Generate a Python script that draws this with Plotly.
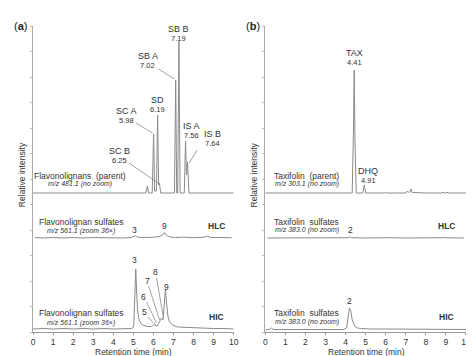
import plotly.graph_objects as go
from plotly.subplots import make_subplots

# ---------------- data ----------------
time_ticks = [0, 1, 2, 3, 4, 5, 6, 7, 8, 9, 10]

# Panel (a) - flavonolignans parent, m/z 481.1
a_parent_t = [0, 5.62, 5.70, 5.76, 5.94, 6.01, 6.06, 6.15, 6.21, 6.26, 6.30, 6.36,
              7.05, 7.11, 7.16, 7.21, 7.27, 7.33, 7.54, 7.60, 7.65, 7.70, 7.77, 10.0]
a_parent_i = [0, 0, 7, 0, 0, 59, 2, 2, 78, 8, 10, 0,
              0, 113, 0, 0, 152, 0, 0, 52, 18, 31, 0, 0]

# Panel (a) - flavonolignan sulfates HLC, m/z 561.1 (zoom 36x)
a_hlc_t = [0.1, 0.5, 1.0, 1.5, 2.0, 2.5, 3.0, 3.5, 4.0, 4.5, 4.9, 5.05, 5.12, 5.2, 5.4, 5.8,
           6.1, 6.3, 6.45, 6.55, 6.62, 6.7, 6.85, 7.1, 7.5, 8.0, 8.5, 8.7, 8.85, 9.2, 9.9]
a_hlc_i = [0.5, 0, 0.5, 0, 0.5, 0, 0.5, 0.3, 0.5, 0, 0.5, 1.5, 2.5, 0.8, 0.5, 0.5,
           1, 1.5, 3, 5.5, 3.5, 2, 1, 0.5, 0.8, 0.3, 0.8, 1.8, 0.5, 0.3, 0.3]

# Panel (a) - flavonolignan sulfates HIC
a_hic_t = [0, 0.5, 1, 1.5, 2, 2.5, 3, 3.5, 4, 4.5, 4.9, 5.02, 5.08, 5.12, 5.17, 5.22, 5.3,
           5.45, 5.7, 5.9, 6.0, 6.06, 6.12, 6.2, 6.27, 6.33, 6.4, 6.48, 6.55, 6.6, 6.65,
           6.72, 6.8, 6.95, 7.2, 7.6, 8.0, 8.5, 9.0, 9.5, 10]
a_hic_i = [1, 1.5, 1, 1.5, 1, 1.5, 1, 1.5, 1, 1.5, 1.5, 3, 30, 61, 35, 18, 9,
           5, 3.5, 3.5, 5, 6.5, 4, 4, 7, 9, 12, 10, 25, 41, 28,
           14, 8, 5, 3, 2.5, 2, 2, 1.5, 1.5, 1]

# Panel (b) - taxifolin parent, m/z 303.1
b_parent_t = [0, 1, 2, 3, 4, 4.33, 4.39, 4.43, 4.47, 4.53, 4.86, 4.93, 5.0, 5.5, 5.9, 5.95,
              6.0, 6.5, 7.0, 7.08, 7.15, 7.2, 7.26, 7.32, 7.6, 8.0, 8.5, 8.8, 8.85, 8.9, 9.0,
              9.05, 9.1, 9.5, 10]
b_parent_i = [0, 0, 0, 0, 0, 0, 60, 123, 50, 0, 0, 8, 0, 0, 0, 1,
              0, 0, 0, 2, 0.5, 1, 4, 0.5, 0, 0, 0, 0, 1, 0, 0,
              1, 0, 0, 0]

# Panel (b) - taxifolin sulfates HLC, m/z 383.0
b_hlc_t = [0.1, 1, 2, 3, 4, 4.15, 4.22, 4.3, 5, 5.8, 6.2, 7, 8, 8.8, 8.9, 9.0, 9.9]
b_hlc_i = [0, 0, 0, 0, 0, 0.3, 1.2, 0.3, 0, 0.5, 0.3, 0, 0, 0.3, 0.8, 0.2, 0]

# Panel (b) - taxifolin sulfates HIC
b_hic_t = [0, 0.2, 0.3, 0.4, 0.8, 1.5, 2, 2.5, 3, 3.5, 3.9, 4.05, 4.12, 4.19, 4.26, 4.33,
           4.45, 4.6, 4.8, 5.2, 6, 7, 8, 9, 10]
b_hic_i = [0, 0.5, 2, 0.5, 0.5, 0.3, 0.5, 0.3, 0.5, 0.5, 0.5, 2, 12, 22, 19, 10,
           4, 2, 1.5, 1, 1, 0.8, 0.5, 0.5, 0.5]

# ---------------- layout helpers ----------------
W, H = 474, 356
L, R, T, B = 25, 11, 18, 32
PW, PH = W - L - R, H - T - B
X0A, X0B, PXMIN = 25, 260, 20.3
OFF_TOP, OFF_MID, OFF_BOT = 139, 94, 2

def xa(px): return (px - X0A) / PXMIN
def xb(px): return (px - X0B) / PXMIN
def yd(py): return (H - B) - py
def xp(px): return (px - L) / PW
def yp(py): return ((H - B) - py) / PH

FONT = "Liberation Sans, Arial, sans-serif"
TXT = "#333333"
LINE = "#8a8a8a"

fig = make_subplots(rows=1, cols=2, horizontal_spacing=0)
dom_a = [0, xp(228)]
dom_b = [xp(260), 1]

def add(t, i, off, col):
    fig.add_trace(go.Scatter(x=t, y=[v + off for v in i], mode="lines",
                             line=dict(color=LINE, width=1), hoverinfo="skip",
                             showlegend=False), row=1, col=col)

add(a_parent_t, a_parent_i, OFF_TOP, 1)
add(a_hlc_t, a_hlc_i, OFF_MID, 1)
add(a_hic_t, a_hic_i, OFF_BOT, 1)
add(b_parent_t, b_parent_i, OFF_TOP, 2)
add(b_hlc_t, b_hlc_i, OFF_MID, 2)
add(b_hic_t, b_hic_i, OFF_BOT, 2)

ann = []
shapes = []

def txt(x, y, s, size, xref, yref="y", bold=False, italic=False, xanchor="center"):
    if bold:
        s = "<b>" + s + "</b>"
    if italic:
        s = "<i>" + s + "</i>"
    ann.append(dict(x=x, y=y, xref=xref, yref=yref, text=s, showarrow=False,
                    font=dict(family=FONT, size=size, color=TXT),
                    xanchor=xanchor, yanchor="middle"))

def seg(x1, y1, x2, y2, xref, yref="y"):
    shapes.append(dict(type="line", x0=x1, y0=y1, x1=x2, y1=y2, xref=xref, yref=yref,
                       line=dict(color="#8a8a8a", width=0.8)))

# panel (a) peak labels
peaks_a = [("SB B", "7.19", 172, 21), ("SB A", "7.02", 141, 48), ("SD", "6.19", 151, 92),
           ("SC A", "5.98", 120, 103), ("IS A", "7.56", 185, 118), ("IS B", "7.64", 207, 126),
           ("SC B", "6.25", 112, 143)]
for nm, rt, px, py in peaks_a:
    txt(xa(px), yd(py), nm, 9, "x")
    txt(xa(px), yd(py + 9), rt, 7.5, "x")
seg(xa(152), yd(61), xa(168), yd(71), "x")
seg(xa(129), yd(115), xa(146), yd(125), "x")
seg(xa(122), yd(155), xa(153), yd(176), "x")
seg(xa(191), yd(142), xa(183), yd(155), "x")

# panel (a) HIC numbered peaks
for s, px, py in [("3", 128, 252), ("8", 149, 264), ("7", 141, 273), ("9", 160, 279),
                  ("6", 137, 289), ("5", 138, 304)]:
    txt(xa(px), yd(py), s, 8.5, "x")
seg(xa(150), yd(270), xa(157), yd(310), "x")
seg(xa(142), yd(278), xa(153), yd(312), "x")
seg(xa(140), yd(294), xa(150), yd(315), "x")
seg(xa(141), yd(309), xa(147), yd(315), "x")
# HLC numbers
txt(xa(128), yd(222), "3", 8.5, "x")
txt(xa(158), yd(218), "9", 8.5, "x")

# trace captions (a)
txt(xa(73), yd(168), "Flavonolignans  (parent)", 8.5, "x")
txt(xa(73), yd(176), "m/z 481.1 (no zoom)", 7, "x", italic=True)
txt(xa(74), yd(214), "Flavonolignan sulfates", 8.5, "x")
txt(xa(74), yd(223), "m/z 561.1 (zoom 36×)", 7, "x", italic=True)
txt(xa(74), yd(305), "Flavonolignan sulfates", 8.5, "x")
txt(xa(74), yd(315), "m/z 561.1 (zoom 36×)", 7, "x", italic=True)
txt(xa(211), yd(218), "HLC", 8.5, "x", bold=True)
txt(xa(211), yd(309), "HIC", 8.5, "x", bold=True)

# panel (b) labels
txt(xb(350), yd(45), "TAX", 9, "x2")
txt(xb(350), yd(54), "4.41", 7.5, "x2")
txt(xb(364), yd(163), "DHQ", 9, "x2")
txt(xb(364), yd(172), "4.91", 7.5, "x2")
txt(xb(346), yd(222), "2", 8.5, "x2")
txt(xb(345), yd(293), "2", 8.5, "x2")
txt(xb(302), yd(168), "Taxifolin  (parent)", 8.5, "x2")
txt(xb(302), yd(176), "m/z 303.1 (no zoom)", 7, "x2", italic=True)
txt(xb(302), yd(214), "Taxifolin  sulfates", 8.5, "x2")
txt(xb(302), yd(222), "m/z 383.0 (no zoom)", 7, "x2", italic=True)
txt(xb(302), yd(305), "Taxifolin  sulfates", 8.5, "x2")
txt(xb(302), yd(314), "m/z 383.0 (no zoom)", 7, "x2", italic=True)
txt(xb(443), yd(218), "HLC", 8.5, "x2", bold=True)
txt(xb(443), yd(309), "HIC", 8.5, "x2", bold=True)

# panel letters, y titles and x titles (paper coords)
for lab, px in [("(<b>a</b>)", 12), ("(<b>b</b>)", 248)]:
    ann.append(dict(x=xp(px), y=yp(18), xref="paper", yref="paper", text=lab, showarrow=False,
                    font=dict(family=FONT, size=11, color="#222"), xanchor="center", yanchor="middle"))
for px in [14, 249]:
    ann.append(dict(x=xp(px), y=yp(167), xref="paper", yref="paper", text="Relative intensity",
                    showarrow=False, textangle=-90,
                    font=dict(family=FONT, size=8.5, color=TXT), xanchor="center", yanchor="middle"))
for px in [127, 362]:
    ann.append(dict(x=xp(px), y=yp(344), xref="paper", yref="paper", text="Retention time (min)",
                    showarrow=False, font=dict(family=FONT, size=8.5, color=TXT),
                    xanchor="center", yanchor="middle", borderpad=0))

xaxis_common = dict(range=[0, 10], tickvals=time_ticks, ticktext=[str(v) for v in time_ticks],
                    showline=True, linecolor="#999", linewidth=1, ticks="outside", ticklen=2,
                    tickcolor="#999", showgrid=False, zeroline=False, ticklabelstandoff=0,
                    tickfont=dict(family=FONT, size=8.5, color=TXT))
yaxis_common = dict(range=[0, PH], showline=True, linecolor="#aaa", linewidth=1,
                    ticks="outside", ticklen=2, tickcolor="#bbb", dtick=25.5, tick0=0,
                    showticklabels=False, showgrid=False, zeroline=False)

fig.update_layout(
    width=W, height=H, margin=dict(l=L, r=R, t=T, b=B),
    paper_bgcolor="white", plot_bgcolor="white",
    xaxis=dict(domain=dom_a, **xaxis_common),
    xaxis2=dict(domain=dom_b, **xaxis_common),
    yaxis=dict(**yaxis_common),
    yaxis2=dict(**yaxis_common),
    annotations=ann, shapes=shapes, showlegend=False,
)

fig.write_html("out.html")
